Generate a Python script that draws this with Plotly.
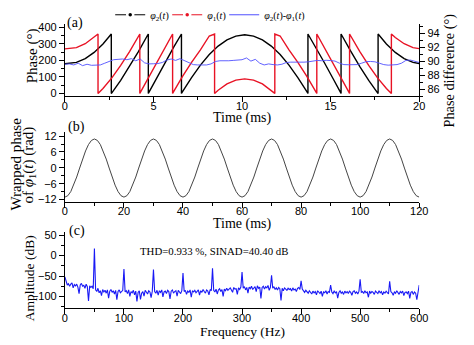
import plotly.graph_objects as go

# ---------------- data ----------------
# (a) wrapped phases in degrees, time in ms
t_phi2 = [0, 0.65, 1.15, 1.65, 2.15, 2.62, 2.62, 2.65, 3.15, 3.65, 4.15, 4.65, 4.71, 4.71,
          5.15, 5.65, 6.15, 6.58, 6.58, 6.65, 7.15, 7.65, 8.15, 8.65, 9.15, 9.65, 10.15,
          10.65, 11.15, 11.65, 12.15, 12.65, 13.15, 13.65, 13.72, 13.72, 14.15, 14.65, 15.15,
          15.59, 15.59, 15.65, 16.15, 16.65, 17.15, 17.65, 17.68, 17.68, 18.15, 18.65, 19.15,
          19.65, 20]
phi2 = [180, 187.7, 210.7, 248.4, 299.8, 360, 0, 3.8, 78.7, 162.6, 253.6, 349.3, 360, 0,
        87.5, 185.7, 281.4, 360, 0, 12.4, 96.3, 171.2, 235.2, 286.6, 324.3, 347.3, 355,
        347.3, 324.3, 286.6, 235.2, 171.2, 96.3, 12.4, 0, 360, 281.4, 185.7, 87.5,
        0, 360, 349.3, 253.6, 162.6, 78.7, 3.8, 0, 360, 299.8, 248.4, 210.7,
        187.7, 181]

t_phi1 = [0, 0.65, 1.15, 1.65, 1.87, 1.87, 2.15, 2.65, 3.15, 3.65, 4.15, 4.23, 4.23,
          4.65, 5.15, 5.65, 6.08, 6.08, 6.15, 6.65, 7.15, 7.65, 8.15, 8.45, 8.45,
          8.65, 9.15, 9.65, 10.15, 10.65, 11.15, 11.65, 11.85, 11.85, 12.15, 12.65, 13.15,
          13.65, 14.15, 14.22, 14.22, 14.65, 15.15, 15.65, 16.07, 16.07, 16.15, 16.65, 17.15,
          17.65, 18.15, 18.43, 18.43, 18.65, 19.15, 19.65, 20]
phi1 = [270, 277.7, 300.8, 338.6, 360, 0, 30.1, 94.2, 169.3, 253.4, 344.6, 360, 0,
        80.6, 179, 277.4, 360, 0, 13.4, 104.6, 188.7, 263.8, 347.9, 360, 0,
        19.4, 57.2, 80.3, 88, 80.3, 57.2, 19.4, 0, 360, 347.9, 263.8, 188.7,
        104.6, 13.4, 0, 360, 277.4, 179, 80.6, 0, 360, 344.6, 253.4, 169.3,
        94.2, 30.1, 0, 360, 338.6, 300.8, 277.7, 271]

# phase difference (deg), sampled every 0.25 ms from 0 to 20 ms
diff = [89.55, 89.6, 89.45, 89.7, 89.35, 89.55, 89.4, 89.38, 89.45, 89.7,
        90.0, 90.2, 90.25, 90.3, 90.2, 90.35, 90.05, 90.3, 89.75, 89.6,
        89.62, 89.65, 89.8, 90.15, 90.3, 90.1, 90.35, 90.05, 89.75, 89.5,
        89.45, 89.42, 89.45, 89.6, 89.95, 90.05, 90.0, 90.05, 90.1, 90.12,
        90.2, 90.45, 90.0, 90.25, 89.7, 89.45, 89.6, 89.5, 89.45, 89.55,
        89.8, 89.85, 89.82, 89.88, 89.85, 89.9, 90.05, 90.1, 90.05, 90.12,
        90.08, 90.0, 89.7, 89.5, 89.48, 89.52, 89.5, 89.7, 89.92, 89.95,
        89.9, 89.7, 89.5, 89.42, 89.45, 89.5, 89.7, 90.1, 90.15, 89.95,
        89.8]
t_diff = [0.25 * i for i in range(len(diff))]

# (b) wrapped phase of phi1 (rad), sampled every 1 ms from 0 to 120 ms
wrapped = [-11.1, -10.56, -9.0, -6.57, -3.5, -0.1, 3.3, 6.37, 8.8, 10.36,
           10.9, 10.36, 8.8, 6.37, 3.3, -0.1, -3.5, -6.57, -9.0, -10.56,
           -11.1, -10.56, -9.0, -6.57, -3.5, -0.1, 3.3, 6.37, 8.8, 10.36,
           10.9, 10.36, 8.8, 6.37, 3.3, -0.1, -3.5, -6.57, -9.0, -10.56,
           -11.1, -10.56, -9.0, -6.57, -3.5, -0.1, 3.3, 6.37, 8.8, 10.36,
           10.9, 10.36, 8.8, 6.37, 3.3, -0.1, -3.5, -6.57, -9.0, -10.56,
           -11.1, -10.56, -9.0, -6.57, -3.5, -0.1, 3.3, 6.37, 8.8, 10.36,
           10.9, 10.36, 8.8, 6.37, 3.3, -0.1, -3.5, -6.57, -9.0, -10.56,
           -11.1, -10.56, -9.0, -6.57, -3.5, -0.1, 3.3, 6.37, 8.8, 10.36,
           10.9, 10.36, 8.8, 6.37, 3.3, -0.1, -3.5, -6.57, -9.0, -10.56,
           -11.1, -10.56, -9.0, -6.57, -3.5, -0.1, 3.3, 6.37, 8.8, 10.36,
           10.9, 10.36, 8.8, 6.37, 3.3, -0.1, -3.5, -6.57, -9.0, -10.56,
           -11.1]
t_wrapped = [1.0 * i for i in range(len(wrapped))]

# (c) amplitude spectrum (dB), sampled every 2 Hz from 0 to 600 Hz
amp = [-52, -66, -72, -69, -75, -70, -67, -79, -71, -74,
       -70, -77, -93, -72, -68, -75, -73, -80, -70, -76,
       -111, -74, -78, -75, -81, 17, -84, -88, -80, -91,
       -86, -98, -83, -89, -85, -92, -84, -104, -87, -83,
       -90, -86, -94, -85, -108, -88, -84, -91, -87, -85,
       -33, -89, -86, -93, -84, -100, -88, -91, -85, -96,
       -87, -112, -90, -86, -107, -92, -88, -99, -85, -90,
       -94, -86, -89, -103, -87, -34, -88, -92, -85, -97,
       -86, -90, -84, -101, -89, -87, -93, -85, -88, -106,
       -87, -84, -92, -88, -86, -99, -85, -89, -93, -86,
       -43, -88, -85, -95, -87, -90, -84, -102, -86, -89,
       -85, -91, -87, -84, -97, -86, -90, -83, -88, -92,
       -84, -87, -96, -83, -86, -31, -85, -89, -82, -94,
       -84, -81, -88, -83, -100, -82, -86, -80, -85, -83,
       -79, -84, -90, -78, -82, -81, -95, -79, -83, -77,
       -40, -80, -76, -84, -78, -92, -77, -81, -75, -83,
       -79, -76, -88, -74, -80, -77, -105, -78, -75, -82,
       -76, -79, -73, -85, -78, -48, -80, -76, -83, -79,
       -84, -78, -81, -110, -80, -86, -79, -82, -85, -80,
       -83, -81, -87, -79, -84, -82, -88, -80, -78, -83,
       -62, -82, -86, -90, -85, -88, -92, -86, -89, -94,
       -87, -91, -88, -96, -86, -90, -93, -87, -100, -89,
       -91, -86, -94, -88, -90, -72, -89, -93, -87, -91,
       -88, -104, -90, -86, -92, -89, -95, -87, -91, -88,
       -93, -87, -90, -97, -88, -86, -92, -89, -94, -87,
       -58, -90, -88, -93, -86, -91, -89, -102, -87, -92,
       -88, -90, -95, -87, -89, -93, -86, -91, -88, -96,
       -89, -92, -87, -90, -94, -63, -88, -91, -97, -89,
       -92, -86, -90, -95, -88, -91, -87, -98, -90, -89,
       -93, -87, -105, -90, -88, -95, -89, -92, -108, -87,
       -72]
freq = [2.0 * i for i in range(len(amp))]

# ---------------- layout helpers ----------------
W, H = 474, 345
def fx(p):
    return p / W
def fy(p):
    return 1 - p / H

SERIF = "Liberation Serif, Times New Roman, serif"
SANS = "Liberation Sans, Arial, sans-serif"
RED = "rgb(232,18,36)"
BLUE_A = "rgb(80,80,255)"
BLUE_C = "rgb(25,25,245)"

fig = go.Figure()

fig.add_trace(go.Scatter(x=t_phi2, y=phi2, mode="lines", line=dict(color="black", width=1.4),
                         xaxis="x", yaxis="y", showlegend=False))
fig.add_trace(go.Scatter(x=t_phi1, y=phi1, mode="lines", line=dict(color=RED, width=1.4),
                         xaxis="x", yaxis="y", showlegend=False))
fig.add_trace(go.Scatter(x=t_diff, y=diff, mode="lines", line=dict(color=BLUE_A, width=0.9),
                         xaxis="x", yaxis="y2", showlegend=False))

# legend entries
mk = dict(size=6, line=dict(color="white", width=2.5))
fig.add_trace(go.Scatter(x=[None], y=[None], mode="lines+markers", name="<i>φ</i><sub>2</sub>(<i>t</i>)",
                         line=dict(color="black", width=1), marker=dict(color="black", **mk),
                         legendwidth=12, xaxis="x", yaxis="y"))
fig.add_trace(go.Scatter(x=[None], y=[None], mode="lines+markers", name="<i>φ</i><sub>1</sub>(<i>t</i>)",
                         line=dict(color=RED, width=1), marker=dict(color=RED, **mk),
                         legendwidth=12, xaxis="x", yaxis="y"))
fig.add_trace(go.Scatter(x=[None], y=[None], mode="lines",
                         name="<i>φ</i><sub>2</sub>(<i>t</i>)-<i>φ</i><sub>1</sub>(<i>t</i>)",
                         line=dict(color=BLUE_A, width=1), legendwidth=70, xaxis="x", yaxis="y"))

fig.add_trace(go.Scatter(x=t_wrapped, y=wrapped, mode="lines", line=dict(color="#444444", width=1),
                         xaxis="x2", yaxis="y3", showlegend=False))
fig.add_trace(go.Scatter(x=freq, y=amp, mode="lines", line=dict(color=BLUE_C, width=1.1),
                         xaxis="x3", yaxis="y4", showlegend=False))

xdom = [fx(63.5), fx(427)]
common = dict(showline=True, linecolor="black", linewidth=1, ticks="outside", ticklen=5,
              tickwidth=1, tickcolor="black", showgrid=False, zeroline=False,
              tickfont=dict(family=SANS, size=11, color="black"))
xcommon = dict(common, ticklabelstandoff=-6)

def minor(d):
    return dict(dtick=d, ticks="outside", ticklen=3, tickcolor="black", tickwidth=1, showgrid=False)

fig.update_layout(
    width=W, height=H, margin=dict(l=0, r=0, t=0, b=0),
    paper_bgcolor="white", plot_bgcolor="white",
    font=dict(family=SANS, size=11, color="black"),
    xaxis=dict(domain=xdom, anchor="y", range=[0, 20], tick0=0, dtick=5, minor=minor(2.5), **xcommon),
    yaxis=dict(domain=[fy(92), fy(18)], anchor="x", range=[-17.6, 417.6], tick0=0, dtick=100,
               minor=minor(50), **common),
    yaxis2=dict(overlaying="y", side="right", anchor="x", range=[84.96, 95.24], tick0=86, dtick=2,
                minor=minor(1), **common),
    xaxis2=dict(domain=xdom, anchor="y3", range=[0, 120], tick0=0, dtick=20, minor=minor(10), **xcommon),
    yaxis3=dict(domain=[fy(200.7), fy(128.3)], anchor="x2", range=[-12.9, 13.7], tick0=0, dtick=6,
                minor=minor(3), **common),
    xaxis3=dict(domain=xdom, anchor="y4", range=[0, 600], tick0=0, dtick=100, minor=minor(50), **xcommon),
    yaxis4=dict(domain=[fy(310.3), fy(232)], anchor="x3", range=[-129, 57], tick0=0, dtick=50,
                minor=minor(25), **common),
    legend=dict(orientation="h", x=fx(110), y=fy(8), xanchor="left", yanchor="middle",
                font=dict(family=SERIF, size=10, color="black"), bgcolor="rgba(0,0,0,0)",
                tracegroupgap=0),
)

def ann(text, x, y, size=14, angle=0, family=SERIF):
    fig.add_annotation(text=text, x=fx(x), y=fy(y), xref="paper", yref="paper",
                       showarrow=False, textangle=angle, xanchor="center", yanchor="middle",
                       font=dict(family=family, size=size, color="black"))

ann("(a)", 73.5, 16.5, 14)
ann("(b)", 75, 124, 14)
ann("(c)", 75.5, 230.5, 14)
ann("Time (ms)", 246, 114.5, 14)
ann("Time (ms)", 246, 223, 14)
ann("Frequency (Hz)", 246, 334, 13.5)
ann("Phase (°)", 30, 50.5, 15, -90)
ann("Phase difference (°)", 458, 65, 14.3, -90)
ann("Wrapped phase", 13.5, 162, 15, -90)
ann("of <i>φ</i><sub>1</sub>(<i>t</i>) (rad)", 27, 163, 15, -90)
ann("Amplitude (dB)", 28, 279, 13.5, -90)
ann("THD=0.933 %, SINAD=40.40 dB", 216, 251.5, 10.8)

fig.write_html("out.html")
